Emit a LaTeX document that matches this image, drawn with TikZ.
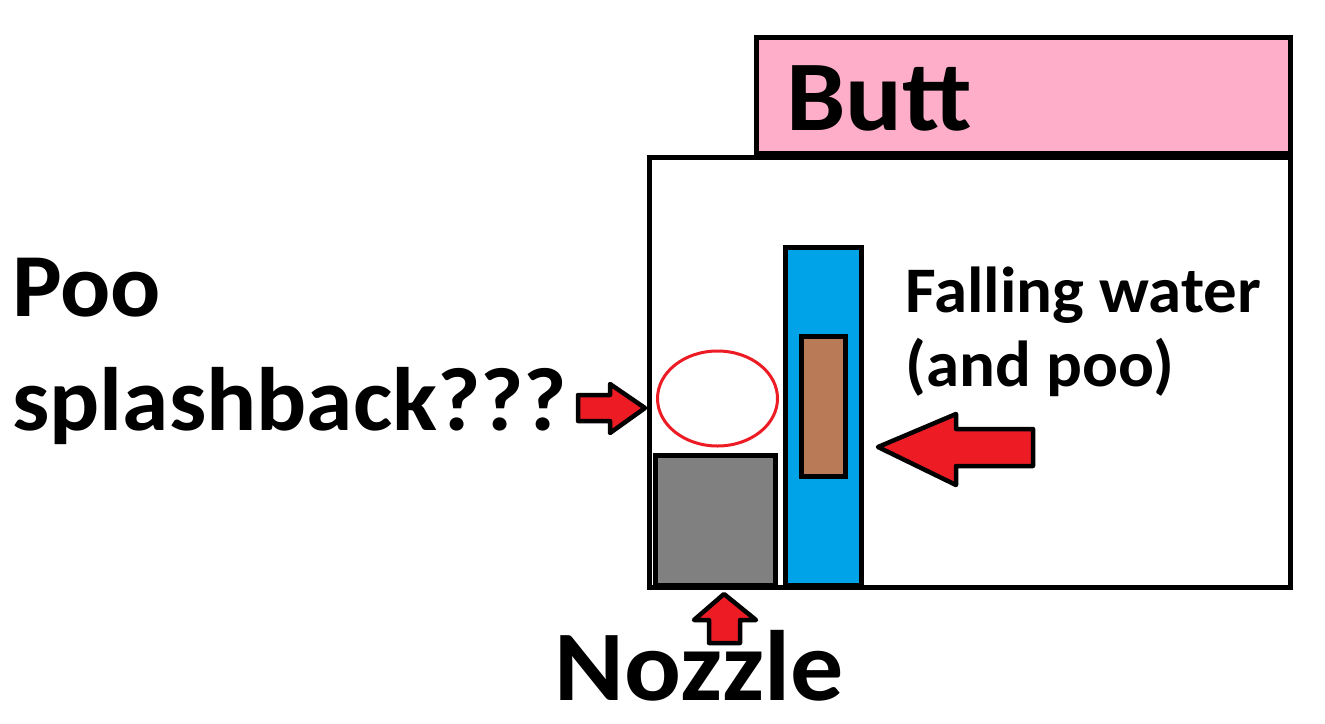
\documentclass[tikz,border=0pt]{standalone}
\usepackage{fontspec}
\setmainfont{Carlito}
\definecolor{buttpink}{RGB}{255,174,201}
\definecolor{waterblue}{RGB}{0,162,232}
\definecolor{poobrown}{RGB}{185,122,87}
\definecolor{nozgray}{RGB}{128,128,128}
\definecolor{arrred}{RGB}{237,28,36}
\tikzset{
  outline/.style={draw=black,line width=5pt},
  redarrow/.style={fill=arrred,draw=black,line width=4.5pt,line join=round},
  lbl/.style={inner sep=0pt,anchor=base west,font=\bfseries},
}
\begin{document}
\begin{tikzpicture}[x=1pt,y=-1pt]
\useasboundingbox (0,0) rectangle (1325,723);
% Butt
\draw[outline,fill=buttpink] (756,37) rectangle (1290,153);
\node[lbl,font=\fontsize{100}{120}\selectfont\bfseries\addfontfeature{FakeStretch=1.06}] (butt) at (786,130) {Butt};
% main box
\draw[outline,fill=white] (649,157) rectangle (1290,587);
% nozzle block
\draw[outline,fill=nozgray] (655.5,455.5) rectangle (775.5,585);
% water column
\draw[outline,fill=waterblue] (785.5,247) rectangle (861.5,585);
% poo
\draw[outline,fill=poobrown] (801.5,336) rectangle (845.5,476.5);
% splash ellipse
\draw[arrred,line width=3pt] (717.5,398.5) ellipse [x radius=60, y radius=47.5];
% arrows
\draw[redarrow] (578,395) -- (610,395) -- (610,384) -- (645,408) -- (610,433) -- (610,421) -- (578,421) -- cycle;
\draw[redarrow] (1033,429) -- (956,429) -- (956,414) -- (878,447) -- (956,485) -- (956,466) -- (1033,466) -- cycle;
\draw[redarrow] (709,643) -- (709,620) -- (694,620) -- (724,594) -- (756,620) -- (740,620) -- (740,643) -- cycle;
% labels
\node[lbl,font=\fontsize{90}{108}\selectfont\bfseries\addfontfeature{FakeStretch=1.04}] (poo) at (12,316) {Poo};
\node[lbl,font=\fontsize{90}{108}\selectfont\bfseries\addfontfeature{FakeStretch=1.04}] (splash) at (12,430) {splashback???};
\node[lbl,font=\fontsize{65}{78}\selectfont\bfseries\addfontfeature{FakeStretch=1.03}] (fall1) at (905,312) {Falling water};
\node[lbl,font=\fontsize{65}{78}\selectfont\bfseries\addfontfeature{FakeStretch=1.03}] (fall2) at (905,386) {(and poo)};
\node[lbl,font=\fontsize{100}{120}\selectfont\bfseries\addfontfeature{FakeStretch=1.06}] (nozzle) at (554,700) {Nozzle};
\end{tikzpicture}
\end{document}
